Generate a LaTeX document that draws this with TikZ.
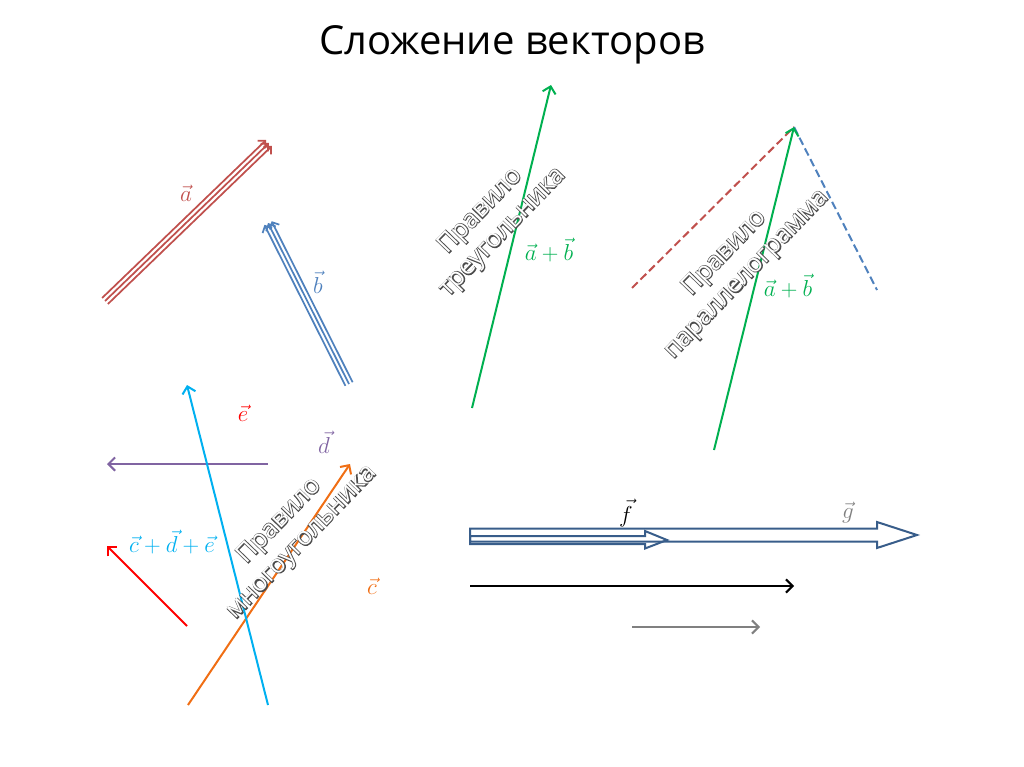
\documentclass[tikz,border=0pt]{standalone}
\usepackage{fontspec}
\setmainfont{Open Sans}
\usetikzlibrary{arrows.meta,calc}

\definecolor{vecred}{RGB}{192,80,77}
\definecolor{vecblue}{RGB}{79,129,189}
\definecolor{sumgreen}{RGB}{0,176,80}
\definecolor{sumcyan}{RGB}{0,176,240}
\definecolor{vecpurple}{RGB}{128,100,162}
\definecolor{vecorange}{RGB}{240,110,20}
\definecolor{blockblue}{RGB}{56,93,138}

\begin{document}
\begin{tikzpicture}[x=0.75pt, y=-0.75pt,
	vec/.style = {line width=1.5pt, -{Straight Barb[length=5pt, width=10pt]}},
	thin vec/.style = {line width=1.3pt, -{Straight Barb[length=4pt, width=8pt]}},
	side/.style = {line width=1.5pt, dash pattern=on 6pt off 3pt},
	blockarrow/.style = {draw=blockblue, line width=1.5pt, line join=miter},
	rulebox/.style = {inner sep=0pt, rotate=46, align=center, text=white, font=\fontsize{19}{23}\selectfont},
	rulerim/.style = {rulebox, text=black!70, font=\fontsize{19}{23}\selectfont\addfontfeature{FakeBold=6}},
	lbl/.style = {inner sep=0pt, font=\fontsize{17}{20}\selectfont}]

	\useasboundingbox (0,0) rectangle (1024,767);

	% Title

	\node (title) at (512,45) {\fontsize{30}{36}\selectfont Сложение векторов};

	% Vectors a and b (triple lines)

	\coordinate (a0) at (105,301);
	\coordinate (a1) at (269,143);
	\coordinate (b0) at (349,384);
	\coordinate (b1) at (268,223);

	\foreach \s in {-1, 0, 1}{
		\draw [thin vec, vecred] ($(a0) + (\s*2.9, \s*3.0)$) -- ($(a1) + (\s*2.9, \s*3.0)$);
		\draw [thin vec, vecblue] ($(b0) + (\s*3.6, -\s*1.8)$) -- ($(b1) + (\s*3.6, -\s*1.8)$);
	}
	\node [lbl, vecred] (la) at (186,193) {$\vec{a}$};
	\node [lbl, vecblue] (lb) at (318,282) {$\vec{b}$};

	% Triangle rule

	\coordinate (t0) at (472,408);
	\coordinate (t1) at (551,85);
	\draw [vec, sumgreen] (t0) -- (t1);
	\node [lbl, sumgreen] (lt) at (549,250) {$\vec{a}+\vec{b}$};
	\node [rulerim] (rt rim) at (492,222) {Правило\\треугольника};
	\node [rulebox] (rt) at (rt rim) {Правило\\треугольника};

	% Parallelogram rule

	\coordinate (p0) at (714,450);
	\coordinate (p1) at (794,127);
	\coordinate (pa) at (632,288);
	\coordinate (pb) at (877,290);
	\draw [side, vecred] (pa) -- (p1);
	\draw [side, vecblue] (p1) -- (pb);
	\draw [vec, sumgreen] (p0) -- (p1);
	\node [lbl, sumgreen] (lp) at (788,286) {$\vec{a}+\vec{b}$};
	\node [rulerim] (rp rim) at (736,264) {Правило\\параллелограмма};
	\node [rulebox] (rp) at (rp rim) {Правило\\параллелограмма};

	% Polygon rule

	\coordinate (c0) at (188,705);
	\coordinate (c1) at (350,464);
	\coordinate (d0) at (268,464);
	\coordinate (d1) at (107,464);
	\coordinate (e0) at (187,626);
	\coordinate (e1) at (107,546);
	\coordinate (s0) at (268,705);
	\coordinate (s1) at (187,385);
	\draw [vec, vecorange] (c0) -- (c1);
	\draw [vec, vecpurple] (d0) -- (d1);
	\draw [vec, red] (e0) -- (e1);
	\draw [vec, sumcyan] (s0) -- (s1);
	\node [lbl, red] (le) at (243,413) {$\vec{e}$};
	\node [lbl, vecpurple] (ld) at (324,442) {$\vec{d}$};
	\node [lbl, sumcyan] (ls) at (172,542) {$\vec{c}+\vec{d}+\vec{e}$};
	\node [lbl, vecorange] (lc) at (372,586) {$\vec{c}$};
	\node [rulerim] (rm rim) at (291,532) {Правило\\многоугольника};
	\node [rulebox] (rm) at (rm rim) {Правило\\многоугольника};

	% Block arrows f and g

	\draw [blockarrow] (470,528.5) -- (877,528.5) -- (877,522) -- (917,535) -- (877,548) -- (877,541.5) -- (470,541.5) -- cycle;
	\draw [blockarrow] (470,536) -- (645,536) -- (645,531) -- (667,540) -- (645,548.5) -- (645,544) -- (470,544) -- cycle;
	\node [lbl, black] (lf) at (626,513) {$\vec{f}$};
	\node [lbl, gray] (lg) at (848,513) {$\vec{g}$};

	% Plain arrows

	\coordinate (k0) at (470,586);
	\coordinate (k1) at (794,586);
	\coordinate (m0) at (632,627);
	\coordinate (m1) at (760,627);
	\draw [vec, black] (k0) -- (k1);
	\draw [vec, gray] (m0) -- (m1);

\end{tikzpicture}
\end{document}
